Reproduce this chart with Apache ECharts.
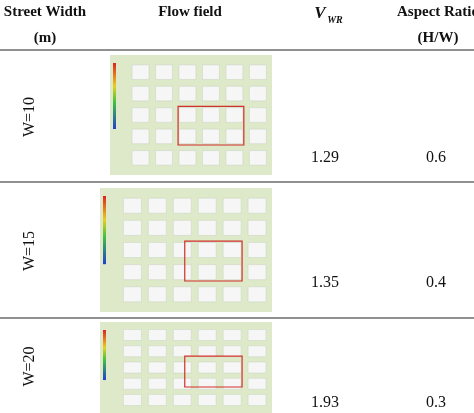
<![CDATA[<!DOCTYPE html><html><head><meta charset="utf-8"><script src="https://cdn.jsdelivr.net/npm/echarts@6/dist/echarts.min.js"></script>
<style>html,body{margin:0;background:#fff}#c{width:474px;height:413px}</style></head><body><div id="c"></div><script>
const widths=['W=10','W=15','W=20'];
const vwr=['1.29','1.35','1.93'];
const aspect=['0.6','0.4','0.3'];
const headers=['Street Width','Flow field','Aspect Ratio'];
const cols=6, rowsB=5;
const blocks=[];for(let i=0;i<cols;i++)for(let j=0;j<rowsB;j++)blocks.push([i+0.5,j+0.5]);
const boxes=[[2.1,2.1,4.9,3.9],[2.6,2.1,4.9,3.9],[2.6,1.8,4.9,3.7]];
const chart=echarts.init(document.getElementById('c'));
const rowsY=[[52,182],[184,318],[320,413]];
const imgs=[[110,55,162,120],[100,188,172,124],[100,322,172,91]];
const grids=[],xA=[],yA=[],series=[],graphic=[];
imgs.forEach((r,k)=>{
 grids.push({left:r[0],top:r[1],width:r[2],height:r[3],show:true,backgroundColor:'#dde9c8',borderWidth:0});
 xA.push({gridIndex:k,type:'value',min:-0.8,max:6.1,show:false});
 yA.push({gridIndex:k,type:'value',min:-0.3,max:5.3,show:false,inverse:true});
 series.push({type:'custom',xAxisIndex:k,yAxisIndex:k,data:blocks,silent:true,renderItem:(p,api)=>{
  const a=api.coord([api.value(0)-0.36,api.value(1)-0.34]),b=api.coord([api.value(0)+0.36,api.value(1)+0.34]);
  return {type:'rect',shape:{x:a[0],y:a[1],width:b[0]-a[0],height:b[1]-a[1]},style:{fill:'#f6f6f6',stroke:'#c9d3c0',lineWidth:0.5}};}});
 series.push({type:'custom',xAxisIndex:k,yAxisIndex:k,data:[boxes[k]],silent:true,renderItem:(p,api)=>{
  const a=api.coord([api.value(0),api.value(1)]),b=api.coord([api.value(2),api.value(3)]);
  return {type:'rect',shape:{x:a[0],y:a[1],width:b[0]-a[0],height:b[1]-a[1]},style:{fill:'none',stroke:'#d2302c',lineWidth:1.2}};}});
 graphic.push({type:'rect',shape:{x:r[0]+3,y:r[1]+8,width:3,height:r[3]*0.55},style:{fill:new echarts.graphic.LinearGradient(0,0,0,1,[{offset:0,color:'#e02020'},{offset:0.35,color:'#e8d020'},{offset:0.6,color:'#40c040'},{offset:1,color:'#2040d0'}])}});
});
const T={fontFamily:'Liberation Serif',fontSize:15,fill:'#111'};
const txt=(x,y,t,extra)=>graphic.push({type:'text',x,y,style:Object.assign({},T,{text:t,align:'center',verticalAlign:'middle'},extra||{})});
txt(45,12,headers[0],{fontWeight:'bold'});txt(45,38,'(m)',{fontWeight:'bold'});
txt(190,12,headers[1],{fontWeight:'bold'});
txt(320,14,'V',{fontWeight:'bold',fontStyle:'italic',fontSize:17});txt(335,20,'WR',{fontWeight:'bold',fontStyle:'italic',fontSize:10});
txt(438,12,headers[2],{fontWeight:'bold'});txt(438,38,'(H/W)',{fontWeight:'bold'});
[50,182,318].forEach(y=>graphic.push({type:'line',shape:{x1:0,y1:y,x2:474,y2:y},style:{stroke:'#222',lineWidth:1}}));
const valY=[158,283,403];
widths.forEach((w,i)=>{
 graphic.push({type:'text',x:30,y:(rowsY[i][0]+rowsY[i][1])/2,rotation:Math.PI/2,style:Object.assign({},T,{text:w,align:'center',verticalAlign:'middle',fontSize:16})});
 txt(325,valY[i],vwr[i],{fontSize:16});txt(436,valY[i],aspect[i],{fontSize:16});
});
chart.setOption({animation:false,grid:grids,xAxis:xA,yAxis:yA,series,graphic});
</script></body></html>]]>
